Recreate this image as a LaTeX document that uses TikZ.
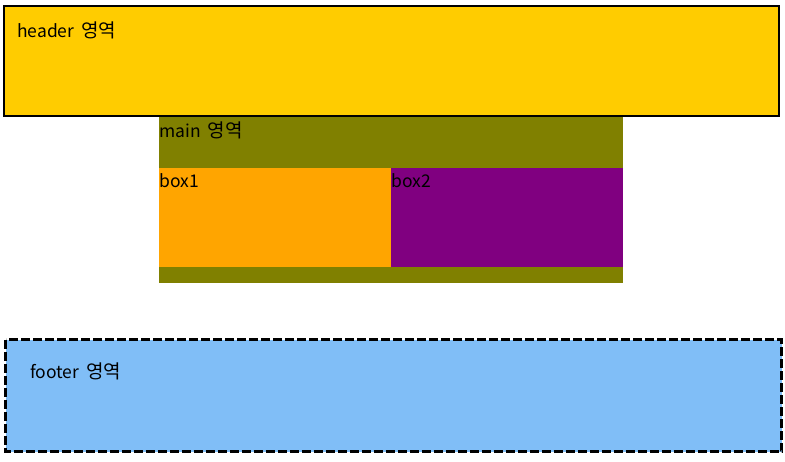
\documentclass[tikz,border=0pt]{standalone}
\usepackage{fontspec}
\setmainfont{Noto Sans CJK KR}
\definecolor{hdr}{HTML}{FFCC00}
\definecolor{mainc}{HTML}{808000}
\definecolor{box1c}{HTML}{FFA500}
\definecolor{box2c}{HTML}{800080}
\definecolor{ftr}{HTML}{80BEF7}
\newcommand{\gapsp}{\hspace{7pt}}
\newcommand{\areaword}{{\fontsize{19}{20}\selectfont 영역}}
\tikzset{
  lbl/.style={anchor=base west, inner sep=0pt, font=\fontsize{17.5}{20}\selectfont, text=black},
}
\begin{document}
\begin{tikzpicture}[x=1pt,y=-1pt]
\useasboundingbox (0,0) rectangle (785,461);
% main area
\fill[mainc] (159,117) rectangle (623,283);
\fill[box1c] (159,167.5) rectangle (391,267);
\fill[box2c] (391,167.5) rectangle (623,267);
% header
\draw[fill=hdr, line width=2pt] (4,6) rectangle (779,116);
% footer
\draw[fill=ftr, line width=3pt, dash pattern=on 9pt off 3pt] (5.5,339.5) rectangle (781.5,451.5);
% labels
\node[lbl] (hl) at (17,37) {header\gapsp\areaword};
\node[lbl] (ml) at (159,137) {main\gapsp\areaword};
\node[lbl] (b1) at (159,187) {box1};
\node[lbl] (b2) at (391,187) {box2};
\node[lbl] (fl) at (30,378) {footer\gapsp\areaword};
\end{tikzpicture}
\end{document}
